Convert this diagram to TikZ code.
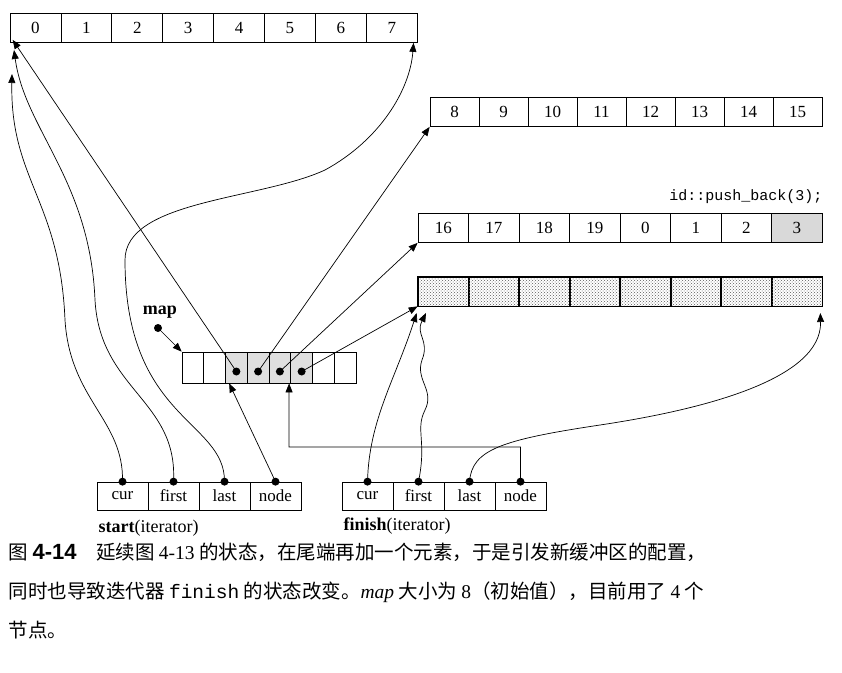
\documentclass[tikz,border=0pt]{standalone}
\usepackage{fontspec}
\setmainfont{Liberation Serif}
\newfontfamily\cjk{Noto Sans CJK SC}
\newfontfamily\capsans{Liberation Sans}
\setmonofont{Liberation Mono}
\usetikzlibrary{patterns,arrows.meta}
\begin{document}
\begin{tikzpicture}[x=1pt,y=-1pt,
  cell/.style={draw,inner sep=0pt,minimum height=29pt,font=\fontsize{17}{19}\selectfont},
  mcell/.style={draw,inner sep=0pt,minimum width=21.75pt,minimum height=31pt},
  dot/.style={circle,fill,inner sep=0pt,minimum size=8pt},
  ptr/.style={-{Triangle[length=9pt,width=7pt]},line width=0.7pt},
  line width=0.7pt]
\useasboundingbox (0,0) rectangle (842,672);
% buffer 0-7
\foreach \i in {0,...,7}{
  \node[cell,minimum width=50.9pt] (a\i) at ({10+50.9*\i+25.45},28) {\i};}
% buffer 8-15
\foreach \i [count=\k from 0] in {8,...,15}{
  \node[cell,minimum width=49pt] (b\k) at ({430+49*\k+24.5},112) {\i};}
% buffer 16..3
\foreach \t [count=\k from 0] in {16,17,18,19,0,1,2}{
  \node[cell,minimum width=50.5pt] (c\k) at ({418+50.5*\k+25.25},228) {\t};}
\node[cell,minimum width=50.5pt,fill=gray!30] (c7) at ({418+50.5*7+25.25},228) {3};
\node[font=\ttfamily\fontsize{15}{17}\selectfont,anchor=south east] (push) at (826,207) {id::push\_back(3);};
% hatched buffer
\foreach \k in {0,...,7}{
  \node[cell,minimum width=50.5pt,fill=gray!35,pattern=crosshatch dots,pattern color=gray!70!black] (d\k) at ({418+50.5*\k+25.25},291.5) {};
  \draw (d\k.north west) rectangle (d\k.south east);}
% map
\foreach \k in {0,...,7}{
  \node[mcell] (m\k) at ({182+21.75*\k+10.875},367.5) {};}
\foreach \k in {2,...,5}{
  \node[mcell,fill=gray!25] at (m\k) {};}
\foreach \k in {2,...,5}{
  \node[dot] (md\k) at ([yshift=-4pt]m\k) {};}
\node[font=\bfseries\fontsize{18}{20}\selectfont] (maplbl) at (160,312) {map};
\node[dot] (mapdot) at (158,328) {};
\draw[ptr] (mapdot) -- (m0.north west);
% iterators
\foreach \n/\t [count=\k from 0] in {cur/cur,first/first,last/last,node/node}{
  \node[cell,minimum width=51pt,minimum height=28pt] (s\n) at ({97+51*\k+25.5},496) {\t};
  \node[cell,minimum width=51pt,minimum height=28pt] (f\n) at ({342+51*\k+25.5},496) {\t};}
\node[anchor=west,font=\fontsize{18}{20}\selectfont] (slbl) at (95,528) {\textbf{start}(iterator)};
\node[anchor=west,font=\fontsize{18}{20}\selectfont] (flbl) at (340,526) {\textbf{finish}(iterator)};
\foreach \n in {cur,first,last,node}{
  \node[dot] (sd\n) at (s\n.north) {};
  \node[dot] (fd\n) at (f\n.north) {};}
% map pointers
\draw[ptr] (md2.center) -- ([xshift=3pt,yshift=3pt]a0.south west);
\draw[ptr] (md3.center) -- (b0.south west);
\draw[ptr] (md4.center) -- (c0.south west);
\draw[ptr] (md5.center) -- (d0.south west);
% start pointers
\coordinate (sc) at (12,74);
\coordinate (sf) at (14,50);
\draw[ptr] (sdcur.center) .. controls (124,420) and (70,400) .. (65,320) .. controls (60,200) and (10,180) .. (sc);
\draw[ptr] (sdfirst.center) .. controls (178,400) and (100,390) .. (95,300) .. controls (90,180) and (25,130) .. (sf);
\draw[ptr] (sdlast.center) .. controls (225,420) and (125,420) .. (125,260) .. controls (125,200) and (260,200) .. (325,170) .. controls (380,140) and (410,90) .. ([xshift=-4pt]a7.south east);
\draw[ptr] (sdnode.center) -- ([xshift=4pt]m2.south west);
% finish pointers
\draw[ptr] (fdcur.center) .. controls (369,420) and (395,380) .. ([xshift=-1pt]d0.south west|-0,313);
\draw[ptr] (fdfirst.center) .. controls (427,440) and (415,430) .. (425,410) .. controls (435,390) and (415,380) .. (422,360) .. controls (430,340) and (415,335) .. (426,313);
\draw[ptr] (fdlast.center) .. controls (472,450) and (500,440) .. (600,425) .. controls (700,410) and (822,380) .. ([xshift=-2pt]d7.south east|-0,313);
\draw[ptr] (fdnode.center) -- (fdnode.center|-0,447) -- (289,447) -- ([xshift=-2pt]m4.south east);
% caption
\node[anchor=west,font=\fontsize{19.5}{22}\selectfont] (cap1) at (5,552) {\cjk 图 {\capsans\bfseries\fontsize{22}{22}\selectfont 4-14}\quad 延续图 {\rmfamily 4-13} 的状态，在尾端再加一个元素，于是引发新缓冲区的配置，};
\node[anchor=west,font=\fontsize{19.5}{22}\selectfont] (cap2) at (5,592) {\cjk 同时也导致迭代器 {\ttfamily finish} 的状态改变。{\rmfamily\itshape map} 大小为 {\rmfamily 8}（初始值），目前用了 {\rmfamily 4} 个};
\node[anchor=west,font=\fontsize{19.5}{22}\selectfont] (cap3) at (5,630) {\cjk 节点。};
\end{tikzpicture}
\end{document}
